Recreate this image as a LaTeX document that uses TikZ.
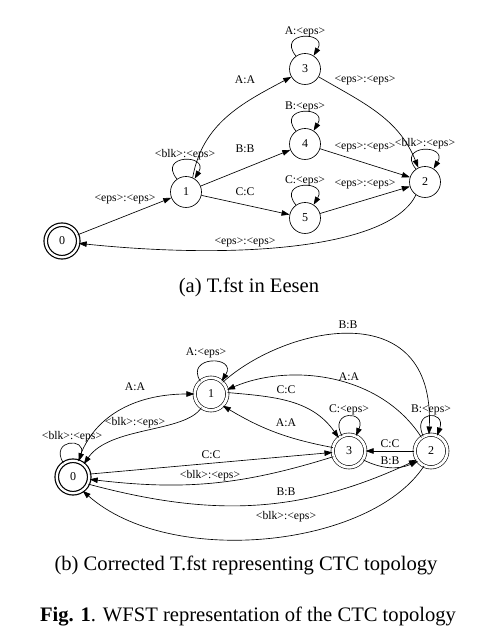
\documentclass[tikz,border=0pt]{standalone}
\usepackage{fontspec}
\setmainfont{Liberation Serif}
\usetikzlibrary{arrows.meta}
\tikzset{
  st/.style={circle, draw, line width=0.65pt, minimum size=31pt, inner sep=0pt, font=\fontsize{12}{12}\selectfont},
  fin/.style={circle, draw, double, line width=0.6pt, double distance=2.8pt, minimum size=32.6pt, inner sep=0pt, font=\fontsize{12}{12}\selectfont},
  ini/.style={circle, draw, double, line width=1.2pt, double distance=2.3pt, minimum size=32.5pt, inner sep=0pt, font=\fontsize{12}{12}\selectfont},
  edge/.style={line width=0.65pt, -{Triangle[length=8pt,width=5.5pt]}},
  lab/.style={font=\fontsize{11.7}{12}\selectfont, inner sep=0pt},
  captext/.style={font=\fontsize{20.6}{22}\selectfont, inner sep=0pt}
}
\begin{document}
\begin{tikzpicture}[x=1pt,y=1pt]
\useasboundingbox (0,0) rectangle (498,638);
% ---------- (a) ----------
\node[ini] (a0) at (62,397) {0};
\node[st] (a1) at (186,446) {1};
\node[st] (a3) at (305,569) {3};
\node[st] (a4) at (305,494) {4};
\node[st] (a5) at (305,420) {5};
\node[st] (a2) at (425,456) {2};

\draw[edge] (a0) -- (a1);
\draw[edge] (a1.125) .. controls +(-20,25) and +(15,25) .. (a1.57);
\draw[edge] (a3.125) .. controls +(-20,25) and +(15,25) .. (a3.57);
\draw[edge] (a4.125) .. controls +(-20,25) and +(15,25) .. (a4.57);
\draw[edge] (a5.125) .. controls +(-20,25) and +(15,25) .. (a5.57);
\draw[edge] (a2.125) .. controls +(-20,25) and +(15,25) .. (a2.57);
\draw[edge] (a1.65) to[out=80,in=208] (a3.210);
\draw[edge] (a1) -- (a4);
\draw[edge] (a1) -- (a5);
\draw[edge] (a4) -- (a2);
\draw[edge] (a5) -- (a2);
\draw[edge] (a3.-30) to[out=-30,in=112] (a2.115);
\draw[edge] (a2.235) .. controls (390,390) and (240,378) .. (a0.-8);

\node[lab] (la1) at (305,606) {A:<eps>};
\node[lab] (la2) at (245,558) {A:A};
\node[lab] (la3) at (365,558) {<eps>:<eps>};
\node[lab] (la4) at (305,531) {B:<eps>};
\node[lab] (la5) at (245,489) {B:B};
\node[lab] (la6) at (365,491) {<eps>:<eps>};
\node[lab] (la7) at (425,494) {<blk>:<eps>};
\node[lab] (la8) at (185,483) {<blk>:<eps>};
\node[lab] (la9) at (305,457) {C:<eps>};
\node[lab] (la10) at (245,446) {C:C};
\node[lab] (la11) at (365,454) {<eps>:<eps>};
\node[lab] (la12) at (125,439) {<eps>:<eps>};
\node[lab] (la13) at (245,396) {<eps>:<eps>};

\node[captext] (capa) at (249,351) {(a) T.fst in Eesen};

% ---------- (b) ----------
\node[ini] (b0) at (73,161) {0};
\node[fin] (b1) at (211,244) {1};
\node[fin] (b3) at (349,187) {3};
\node[fin] (b2) at (431,187) {2};

\draw[edge] (b0.125) .. controls +(-14,24) and +(8,24) .. (b0.70);
\draw[edge] (b1.130) .. controls +(-16,26) and +(16,26) .. (b1.50);
\draw[edge] (b3.115) .. controls +(-14,26) and +(11,26) .. (b3.65);
\draw[edge] (b2.118) .. controls +(-12,26) and +(9,26) .. (b2.68);

\draw[edge] (b0.72) to[out=72,in=180] (b1.180);
\draw[edge] (b1.235) .. controls (185,205) and (110,212) .. (b0.50);
\draw[edge] (b1.5) to[out=-5,in=125] (b3.128);
\draw[edge] (b3.168) to[bend left=10] (b1.-45);
\draw[edge] (b2.125) .. controls (380,265) and (290,275) .. (b1.15);
\draw[edge] (b1.45) .. controls (285,312) and (435,345) .. (b2.97);
\draw[edge] (b2) -- (b3);
\draw[edge] (b3.-32) to[bend right=25] (b2.218);
\draw[edge] (b0.10) -- (b3.185);
\draw[edge] (b3.200) to[bend left=12] (b0.-8);
\draw[edge] (b0.-25) to[out=-15,in=205] (b2.212);
\draw[edge] (b2.245) .. controls (370,90) and (170,70) .. (b0.-55);

\node[lab] (lb1) at (348,313) {B:B};
\node[lab] (lb2) at (206,285) {A:<eps>};
\node[lab] (lb3) at (349,261) {A:A};
\node[lab] (lb4) at (135,251) {A:A};
\node[lab] (lb5) at (286,248) {C:C};
\node[lab] (lb6) at (135,215) {<blk>:<eps>};
\node[lab] (lb7) at (349,228) {C:<eps>};
\node[lab] (lb8) at (431,228) {B:<eps>};
\node[lab] (lb9) at (286,215) {A:A};
\node[lab] (lb10) at (72,201) {<blk>:<eps>};
\node[lab] (lb11) at (390,194) {C:C};
\node[lab] (lb12) at (390,177) {B:B};
\node[lab] (lb13) at (211,183) {C:C};
\node[lab] (lb14) at (210,162) {<blk>:<eps>};
\node[lab] (lb15) at (286,146) {B:B};
\node[lab] (lb16) at (286,121) {<blk>:<eps>};

\node[captext] (capb) at (246,73) {(b) Corrected T.fst representing CTC topology};
\node[captext] (fig) at (248,21) {\textbf{Fig. 1}. WFST representation of the CTC topology};
\end{tikzpicture}
\end{document}
